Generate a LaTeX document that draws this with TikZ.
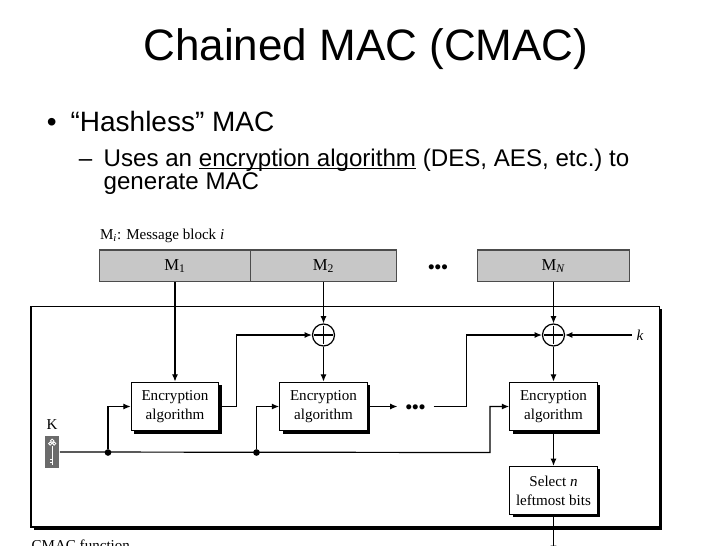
\documentclass[tikz,border=0pt]{standalone}
\usepackage{fontspec}
\setmainfont{Liberation Serif}
\newfontfamily\arialf{Liberation Sans}
\newcommand\myul[1]{\setbox0\hbox{#1}\rlap{\rule[-1.9pt]{\wd0}{0.85pt}}\box0\relax}
\usetikzlibrary{arrows.meta,shadows}
\begin{document}
\begin{tikzpicture}[x=0.75pt,y=-0.75pt,line width=0.9pt,
  arr/.style={-{Latex[length=5.5pt,width=4.6pt]}},
  dfont/.style={font=\fontsize{11.3}{14.2}\selectfont},
  encbox/.style={draw, fill=white, minimum width=65.6pt, minimum height=36.4pt,
    align=center, inner sep=0pt, dfont,
    drop shadow={shadow xshift=2.2pt, shadow yshift=-2.2pt, fill=black, opacity=1}},
  msgbox/.style={draw=black!70, fill=black!22, minimum height=23.8pt, inner sep=0pt,
    font=\fontsize{12.5}{15}\selectfont},
  xorc/.style={draw, circle, fill=white, minimum size=16.5pt, inner sep=0pt,
    path picture={\draw[line width=0.8pt]
      ([yshift=-1.3pt]path picture bounding box.north) -- ([yshift=1.3pt]path picture bounding box.south)
      ([xshift=1.3pt]path picture bounding box.west) -- ([xshift=-1.3pt]path picture bounding box.east);}},
  junction/.style={circle, fill, inner sep=0pt, minimum size=5pt},
  dotsfont/.style={font=\arialf\fontsize{14}{14}\selectfont},
  subfont/.style={font=\arialf\fontsize{18.1}{22}\selectfont\frenchspacing}
]
\useasboundingbox (0,0) rectangle (728,546);

% slide text
\node[anchor=base, font=\arialf\fontsize{33}{40}\selectfont, inner sep=0pt] (title) at (366,60) {Chained MAC (CMAC)};
\node[anchor=base, font=\arialf\fontsize{21}{25}\selectfont, inner sep=0pt] (bul1) at (51.7,131.7) {•};
\node[anchor=base west, font=\arialf\fontsize{21}{25}\selectfont, inner sep=0pt] (txt1) at (70,131.7) {“Hashless” MAC};
\node[anchor=base, subfont, inner sep=0pt] (bul2) at (85.5,166.5) {–};
\node[anchor=base west, subfont, inner sep=0pt] (txt2) at (103,166.5)
  {Uses an \myul{encryption algorithm} (DES, AES, etc.) to};
\node[anchor=base west, subfont, inner sep=0pt] (txt3) at (103,189) {generate MAC};

% outer frame
\node[draw, fill=white, minimum width=471.4pt, minimum height=165.2pt, inner sep=0pt,
  drop shadow={shadow xshift=2pt, shadow yshift=-2pt, fill=black, opacity=1}] (frame) at (345.25,416.85) {};

% message blocks
\node[anchor=base west, dfont, inner sep=0pt] (milab) at (99.5,239) {M\textsubscript{\textit{i}}: Message block \textit{i}};
\node[msgbox, minimum width=113.25pt] (m1) at (175,265.85) {M\textsubscript{1}};
\node[msgbox, minimum width=109.5pt] (m2) at (323.5,265.85) {M\textsubscript{2}};
\node[msgbox, minimum width=113.5pt] (mN) at (553.5,265.85) {M\textsubscript{\textit{N}}};
\node[dotsfont, inner sep=0pt] (dtop) at (438,269) {•••};

% xors
\node[xorc] (x1) at (323.5,335) {};
\node[xorc] (x2) at (553.5,335) {};
\node[font=\fontsize{11.3}{14}\selectfont\itshape, inner xsep=3.3pt, inner ysep=0pt] (k) at (640,335) {k};

% boxes
\node[encbox] (enc1) at (175,406.5) {Encryption\\algorithm};
\node[encbox] (enc2) at (323.5,406.5) {Encryption\\algorithm};
\node[encbox] (enc3) at (553.5,406.5) {Encryption\\algorithm};
\node[encbox, minimum height=36pt] (sel) at (553.5,490.5) {Select \textit{n}\\leftmost bits};
\node[dotsfont, inner sep=0pt, minimum width=26.25pt, minimum height=6pt] (dots2) at (415.5,409.5) {•••};

% key
\node[anchor=base, dfont, inner sep=0pt] (klab) at (52,429) {K};
\node[fill=black!58, minimum width=10.7pt, minimum height=23.8pt, inner sep=0pt] (key) at (52.2,452) {};
\begin{scope}[white, line width=0.6pt]
  \draw (52.2,440.8) circle (1.3pt);
  \draw (50.2,443.6) circle (1.2pt);
  \draw (54.2,443.6) circle (1.2pt);
  \draw (52.2,446) -- (52.2,464.5);
  \draw (52.2,459) -- (49.9,459);
  \draw (52.2,462.5) -- (49.9,462.5);
\end{scope}

\coordinate (kb) at (490,452.5);
\coordinate (out) at (553.5,553);
\node[anchor=base west, dfont, inner sep=0pt] (cmac) at (31,550.5) {CMAC function};

% connectors
\draw[arr] (m1.south) -- (enc1.north);
\draw[arr] (m2.south) -- (x1.north);
\draw[arr] (x1.south) -- (enc2.north);
\draw[arr] (mN.south) -- (x2.north);
\draw[arr] (x2.south) -- (enc3.north);
\draw[arr] (k.west) -- (x2.east);
\draw[arr] (enc1.east) -- ++(17.5,0) |- (x1.west);
\draw[arr] (enc2.east) -- (enc2.east -| dots2.west);
\draw[arr] (enc2.east -| dots2.east) -- ++(32.5,0) |- (x2.west);
\draw[arr] (key.east) -- (kb) |- (enc3.west);
\node[junction] (dot1) at (108,452.5) {};
\node[junction] (dot2) at (256.5,452.5) {};
\draw[arr] (dot1) |- (enc1.west);
\draw[arr] (dot2) |- (enc2.west);
\draw[arr] (enc3.south) -- (sel.north);
\draw[arr] (sel.south) -- (out);
\end{tikzpicture}
\end{document}
